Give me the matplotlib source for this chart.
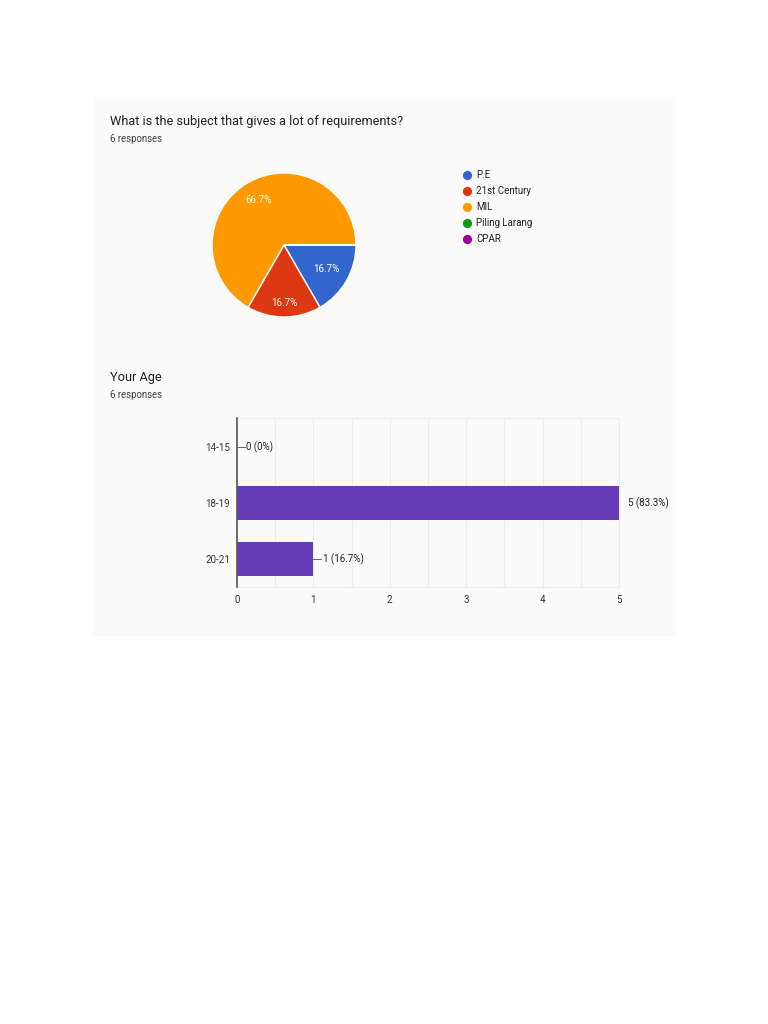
import numpy as np
import matplotlib.pyplot as plt
from matplotlib.patches import Rectangle

plt.rcParams['font.family'] = ['Roboto', 'DejaVu Sans']

# pie data
subjects = ["P.E", "21st Century", "MIL", "Piling Larang", "CPAR"]
subject_counts = [1, 1, 4, 0, 0]
subject_colors = ["#3366cc", "#dc3912", "#ff9900", "#109618", "#990099"]

# bar data
ages = ["14-15", "18-19", "20-21"]
age_counts = [0, 5, 1]
age_labels = ["0 (0%)", "5 (83.3%)", "1 (16.7%)"]

W, H = 768, 1024
fig = plt.figure(figsize=(W / 100, H / 100), dpi=100)

# faint grey panel behind both charts
bg = fig.add_axes([0, 0, 1, 1])
bg.set_xlim(0, W)
bg.set_ylim(H, 0)
bg.axis("off")
bg.add_patch(Rectangle((93, 97), 582, 538, color="#fafafa", zorder=0))

# titles
fig.text(110 / W, 1 - 121 / H, "What is the subject that gives a lot of requirements?",
         fontsize=9.2, color="#212121", va="center")
fig.text(110 / W, 1 - 139 / H, "6 responses", fontsize=6.9, color="#424242", va="center")
fig.text(110 / W, 1 - 378 / H, "Your Age", fontsize=9.2, color="#212121", va="center")
fig.text(110 / W, 1 - 395 / H, "6 responses", fontsize=6.9, color="#424242", va="center")

# --- pie ---
cx, cy, r = 284, 245, 72
pax = fig.add_axes([(cx - r) / W, 1 - (cy + r) / H, 2 * r / W, 2 * r / H])
pax.pie(subject_counts, colors=subject_colors, startangle=0, counterclock=False,
        wedgeprops=dict(edgecolor="white", linewidth=1))
pax.set_aspect("auto")
pax.set_xlim(-1, 1)
pax.set_ylim(-1, 1)
total = sum(subject_counts)
label_dist = [0.68, 0.8, 0.72]
start = 0.0
k = 0
for c in subject_counts:
    if c == 0:
        continue
    mid = np.deg2rad(start - 360 * c / total / 2)
    rr = label_dist[k]
    pax.text(rr * np.cos(mid), rr * np.sin(mid), f"{100 * c / total:.1f}%", color="white",
             fontsize=7, ha="center", va="center")
    start -= 360 * c / total
    k += 1

# legend for pie
for i, (name, col) in enumerate(zip(subjects, subject_colors)):
    y = 175 + 16 * i
    bg.plot(467, y, "o", markersize=6.6, color=col, markeredgewidth=0)
    bg.text(476, y, name, fontsize=7, color="#222222", va="center")

# --- bar ---
bx0, bx1, by0, by1 = 237, 619, 418, 587
bax = fig.add_axes([bx0 / W, 1 - by1 / H, (bx1 - bx0) / W, (by1 - by0) / H])
ypos = np.arange(len(ages))
bax.barh(ypos, age_counts, height=0.61, color="#673ab7", zorder=3)
bax.set_xlim(0, 5)
bax.set_ylim(2.5, -0.52)
bax.set_xticks(np.arange(0, 6))
bax.set_xticks(np.arange(0.5, 5, 1), minor=True)
bax.set_yticks(ypos)
bax.set_yticklabels(ages)
bax.tick_params(axis="both", which="both", length=0, labelsize=7, colors="#333333")
bax.tick_params(axis="x", pad=6)
bax.tick_params(axis="y", pad=5)
bax.grid(axis="x", which="both", color="#ececec", linewidth=0.8, zorder=0)
bax.set_facecolor("none")
for s in ["top", "bottom", "right"]:
    bax.spines[s].set_color("#ececec")
    bax.spines[s].set_linewidth(0.8)
bax.spines["left"].set_color("#555555")
bax.spines["left"].set_linewidth(1.2)
bax.spines["left"].set_zorder(4)

for y, v, lab in zip(ypos, age_counts, age_labels):
    if v < 5:
        bax.plot([v, v + 0.1], [y, y], color="#666666", linewidth=0.7, zorder=4)
        bax.text(v + 0.12, y, lab, fontsize=7, color="#222222", va="center")
    else:
        bax.text(v + 0.12, y, lab, fontsize=7, color="#222222", va="center", clip_on=False)

fig.savefig("out.png", dpi=100)
